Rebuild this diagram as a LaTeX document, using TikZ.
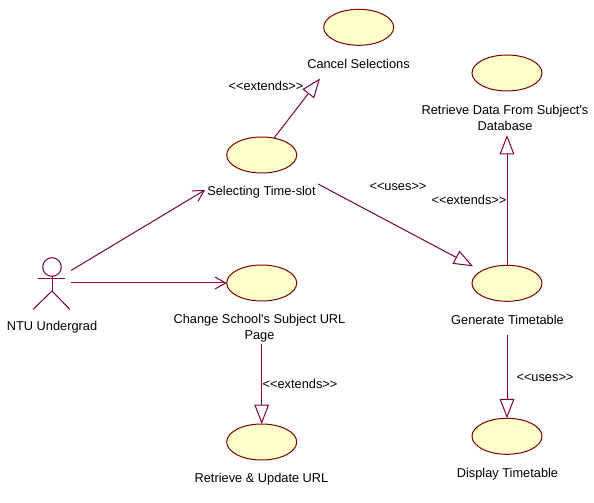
\documentclass[tikz,border=0pt]{standalone}
\usepackage{fontspec}
\newfontfamily\capfont{Liberation Sans}
\usetikzlibrary{shapes.geometric,arrows.meta}
\definecolor{umlline}{HTML}{800040}
\definecolor{umledge}{HTML}{800000}
\definecolor{umlfill}{HTML}{FFFFCB}
\tikzset{
  usecase/.style={ellipse,draw=umledge,fill=umlfill,line width=0.75pt,minimum width=52.5pt,minimum height=27pt,inner sep=0pt,outer sep=0pt},
  caption/.style={font=\capfont\fontsize{9.6pt}{12.4pt}\selectfont,align=center,inner sep=0pt,outer sep=0pt,text=black},
  conn/.style={draw=umlline,line width=0.75pt},
  hollow/.style={conn,-{Triangle[open,fill=white,length=14.5pt,width=11pt,line width=0.75pt]}},
  openarrow/.style={conn,-{Straight Barb[length=8pt,width=9pt,line width=0.75pt]}}
}
\begin{document}
\begin{tikzpicture}[x=0.75pt,y=-0.75pt]
\useasboundingbox (0,0) rectangle (594,503);
\fill[white] (0,0) rectangle (594,503);
% use cases
\node[usecase] (cancel) at (358.7,27.3) {};
\node[usecase] (retrieve) at (507,73) {};
\node[usecase] (select) at (261.7,155) {};
\node[usecase] (change) at (261.7,283) {};
\node[usecase] (update) at (261.7,442) {};
\node[usecase] (generate) at (507,283.3) {};
\node[usecase] (display) at (507,436.3) {};
% captions
\node[caption] (cancelt) at (358.5,63.5) {Cancel Selections};
\node[caption] (retrievet) at (505,118) {Retrieve Data From Subject's\\Database};
\node[caption] (selectt) at (261.5,192) {Selecting Time-slot};
\node[caption] (changet) at (259.5,328) {Change School's Subject URL\\Page};
\node[caption] (updatet) at (261.5,479) {Retrieve \& Update URL};
\node[caption] (generatet) at (507.5,320) {Generate Timetable};
\node[caption] (displayt) at (507.5,474) {Display Timetable};
\node[caption] (actort) at (52,327) {NTU Undergrad};
% connector labels
\node[caption] (l1) at (266,85.5) {<{}<extends>{}>};
\node[caption] (l2) at (398,187) {<{}<uses>{}>};
\node[caption] (l3) at (469,199.5) {<{}<extends>{}>};
\node[caption] (l4) at (300,383.5) {<{}<extends>{}>};
\node[caption] (l5) at (545,377.5) {<{}<uses>{}>};
% actor
\draw[conn] (52,267) circle[radius=9.3];
\draw[conn] (52,276.3) -- (52,291);
\draw[conn] (38,279) -- (65,279);
\draw[conn] (33,309.5) -- (52,291) -- (70,309.5);
\coordinate (actor) at (71,283);
\coordinate (actorup) at (71,270.5);
% connectors
\draw[openarrow] (actorup) -- ([shift={(-56.5,-2)}]selectt.center);
\draw[openarrow] (actor) -- (change.west);
\draw[hollow] (select.54) -- ([shift={(-38.5,15)}]cancelt.center);
\draw[hollow] ([shift={(56.5,-8)}]selectt.center) -- ([shift={(-34,-17)}]generate.center);
\draw[hollow] (generate.north) -- ([shift={(2,17)}]retrievet.center);
\draw[hollow] ([shift={(2.2,16)}]changet.center) -- (update.north);
\draw[hollow] ([shift={(-0.5,15)}]generatet.center) -- (display.north);
\end{tikzpicture}
\end{document}
